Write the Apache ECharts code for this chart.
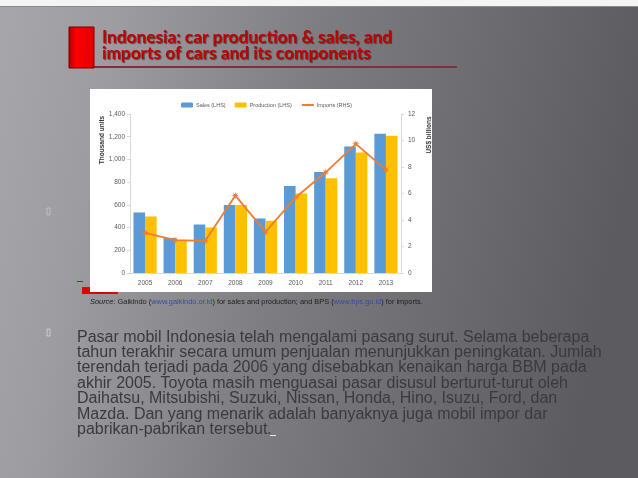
<!DOCTYPE html>
<html>
<head>
<meta charset="utf-8">
<script src="https://cdn.jsdelivr.net/npm/echarts@6/dist/echarts.min.js"></script>
<style>
html, body { margin: 0; padding: 0; background: #808086; }
#main { width: 638px; height: 478px; }
</style>
</head>
<body>
<div id="main"></div>
<script>
var years = ['2005', '2006', '2007', '2008', '2009', '2010', '2011', '2012', '2013'];
var sales = [533, 309, 427, 598, 480, 766, 890, 1114, 1226];
var production = [498, 290, 401, 598, 460, 701, 834, 1061, 1208];
var imports = [3.03, 2.48, 2.43, 5.84, 3.1, 5.7, 7.6, 9.75, 7.78];

var seriesNames = ['Sales (LHS)', 'Production (LHS)', 'Imports (RHS)'];
var titleLines = ['Indonesia: car production & sales, and', 'imports of cars and its components'];
var paragraphLines = [
    'Pasar mobil Indonesia telah mengalami pasang surut. Selama beberapa',
    'tahun terakhir secara umum penjualan menunjukkan peningkatan. Jumlah',
    'terendah terjadi pada 2006 yang disebabkan kenaikan harga BBM pada',
    'akhir 2005. Toyota masih menguasai pasar disusul berturut-turut oleh',
    'Daihatsu, Mitsubishi, Suzuki, Nissan, Honda, Hino, Isuzu, Ford, dan',
    'Mazda. Dan yang menarik adalah banyaknya juga mobil impor dar',
    'pabrikan-pabrikan tersebut.'
];

// asterisk-like marker (Excel star)
function starPath() {
    var pts = [];
    for (var i = 0; i < 16; i++) {
        var a = Math.PI * i / 8;
        var r = i % 2 === 0 ? 10 : 3.5;
        pts.push((10 + r * Math.sin(a)).toFixed(2) + ',' + (10 - r * Math.cos(a)).toFixed(2));
    }
    return 'path://M' + pts.join('L') + 'Z';
}

var chart = echarts.init(document.getElementById('main'), null, {renderer: 'canvas'});
var axisText = {color: '#595959', fontSize: 6.5, fontFamily: 'Liberation Sans'};

var option = {
    animation: false,
    color: ['#5b9bd5', '#ffc000', '#ed7d31'],
    graphic: [
        {type: 'rect', z: -20, shape: {x: 0, y: 0, width: 638, height: 478},
         style: {fill: new echarts.graphic.LinearGradient(0, 0, 1, 0.25, [
             {offset: 0, color: '#a6a6ab'},
             {offset: 0.18, color: '#9c9ca1'},
             {offset: 0.5, color: '#7c7c81'},
             {offset: 1, color: '#5c5b60'}
         ])}},
        {type: 'rect', z: -19, shape: {x: 0, y: 0, width: 638, height: 6}, style: {fill: '#f4f4f4'}},
        {type: 'rect', z: -19, shape: {x: 0, y: 6, width: 638, height: 1}, style: {fill: '#8a8a8e'}},
        // title block
        {type: 'rect', z: -18, shape: {x: 94, y: 66, width: 363, height: 2}, style: {fill: '#7a3438'}},
        {type: 'rect', z: -18, shape: {x: 69, y: 27, width: 25, height: 41},
         style: {fill: new echarts.graphic.LinearGradient(0, 0, 1, 0, [
             {offset: 0, color: '#b00000'}, {offset: 0.3, color: '#ff0000'}, {offset: 1, color: '#e00000'}
         ]), stroke: '#7a0000', lineWidth: 1}},
        {type: 'text', z: -18, style: {
            text: titleLines.join('\n'), x: 102, y: 29.5, lineHeight: 16,
            font: 'bold 17.3px Lato', fill: '#c00000',
            textShadowColor: 'rgba(60,0,0,0.6)', textShadowBlur: 1, textShadowOffsetX: 1, textShadowOffsetY: 1
        }},
        // red decorations behind chart picture
        {type: 'rect', z: -18, shape: {x: 77, y: 281, width: 6, height: 1}, style: {fill: '#d00000'}},
        {type: 'rect', z: -18, shape: {x: 82, y: 287, width: 36, height: 7}, style: {fill: '#e00000'}},
        // chart picture box
        {type: 'rect', z: -17, shape: {x: 90, y: 89, width: 342, height: 203}, style: {fill: '#ffffff'}},
        {type: 'text', z: 5, rotation: Math.PI / 2, x: 102.5, y: 140, style: {
            text: 'Thousand units', font: 'bold 6.5px "Liberation Sans"', fill: '#333333',
            align: 'center', verticalAlign: 'middle'}},
        {type: 'text', z: 5, rotation: Math.PI / 2, x: 429, y: 135, style: {
            text: 'US$ billions', font: 'bold 6.5px "Liberation Sans"', fill: '#333333',
            align: 'center', verticalAlign: 'middle'}},
        // source
        {type: 'text', z: 5, style: {
            x: 90, y: 298,
            text: '{i|Source:} Gaikindo ({u|www.gaikindo.or.id}) for sales and production; and BPS ({u|www.bps.go.id}) for imports.',
            font: '7.4px "Liberation Sans"', fill: '#1e1e1e',
            rich: {
                i: {fontStyle: 'italic', fontSize: 7.4, fill: '#1e1e1e'},
                u: {fontSize: 7.4, fill: '#3050a0', textDecoration: 'underline'}
            }
        }},
        // bullets
        {type: 'rect', z: 5, shape: {x: 47, y: 208, width: 3, height: 7}, style: {fill: 'none', stroke: '#c8c8cc', lineWidth: 0.8}},
        {type: 'rect', z: 5, shape: {x: 47, y: 329, width: 3, height: 7}, style: {fill: 'none', stroke: '#d8d8dc', lineWidth: 0.8}},
        // paragraph
        {type: 'text', z: 5, style: {
            text: paragraphLines.join('\n'), x: 77, y: 329.5, lineHeight: 15.4,
            font: '16px "Liberation Sans"', fill: '#3a3a3e'
        }},
        {type: 'rect', z: 5, shape: {x: 270, y: 435, width: 6, height: 1}, style: {fill: '#e8e8e8'}}
    ],
    legend: {
        data: seriesNames,
        left: 176,
        top: 97,
        itemWidth: 12,
        itemHeight: 5,
        itemGap: 9,
        textStyle: {color: '#595959', fontSize: 5.5, fontFamily: 'Liberation Sans', padding: [0, 0, 0, -2]}
    },
    grid: {left: 130, right: 237, top: 114, bottom: 205},
    xAxis: {
        type: 'category',
        data: years,
        axisLine: {lineStyle: {color: '#d9d9d9'}},
        axisTick: {show: false},
        axisLabel: Object.assign({margin: 7}, axisText)
    },
    yAxis: [
        {
            type: 'value', min: 0, max: 1400, interval: 200,
            splitLine: {show: false},
            axisLine: {show: true, lineStyle: {color: '#d9d9d9'}},
            axisTick: {show: true, length: 3, lineStyle: {color: '#d9d9d9'}},
            axisLabel: Object.assign({margin: 5, formatter: function (v) { return v.toLocaleString('en-US'); }}, axisText)
        },
        {
            type: 'value', min: 0, max: 12, interval: 2,
            splitLine: {show: false},
            axisLine: {show: true, lineStyle: {color: '#d9d9d9'}},
            axisTick: {show: true, length: 3, lineStyle: {color: '#d9d9d9'}},
            axisLabel: Object.assign({margin: 7}, axisText)
        }
    ],
    series: [
        {name: seriesNames[0], type: 'bar', data: sales, barGap: '0%', barCategoryGap: '23%', yAxisIndex: 0},
        {name: seriesNames[1], type: 'bar', data: production, barGap: '0%', barCategoryGap: '23%', yAxisIndex: 0},
        {name: seriesNames[2], type: 'line', data: imports, yAxisIndex: 1,
         symbol: starPath(), symbolSize: 8,
         lineStyle: {width: 1.8, color: '#ed7d31'},
         itemStyle: {color: '#ed7d31'}}
    ]
};
chart.setOption(option);
</script>
</body>
</html>
